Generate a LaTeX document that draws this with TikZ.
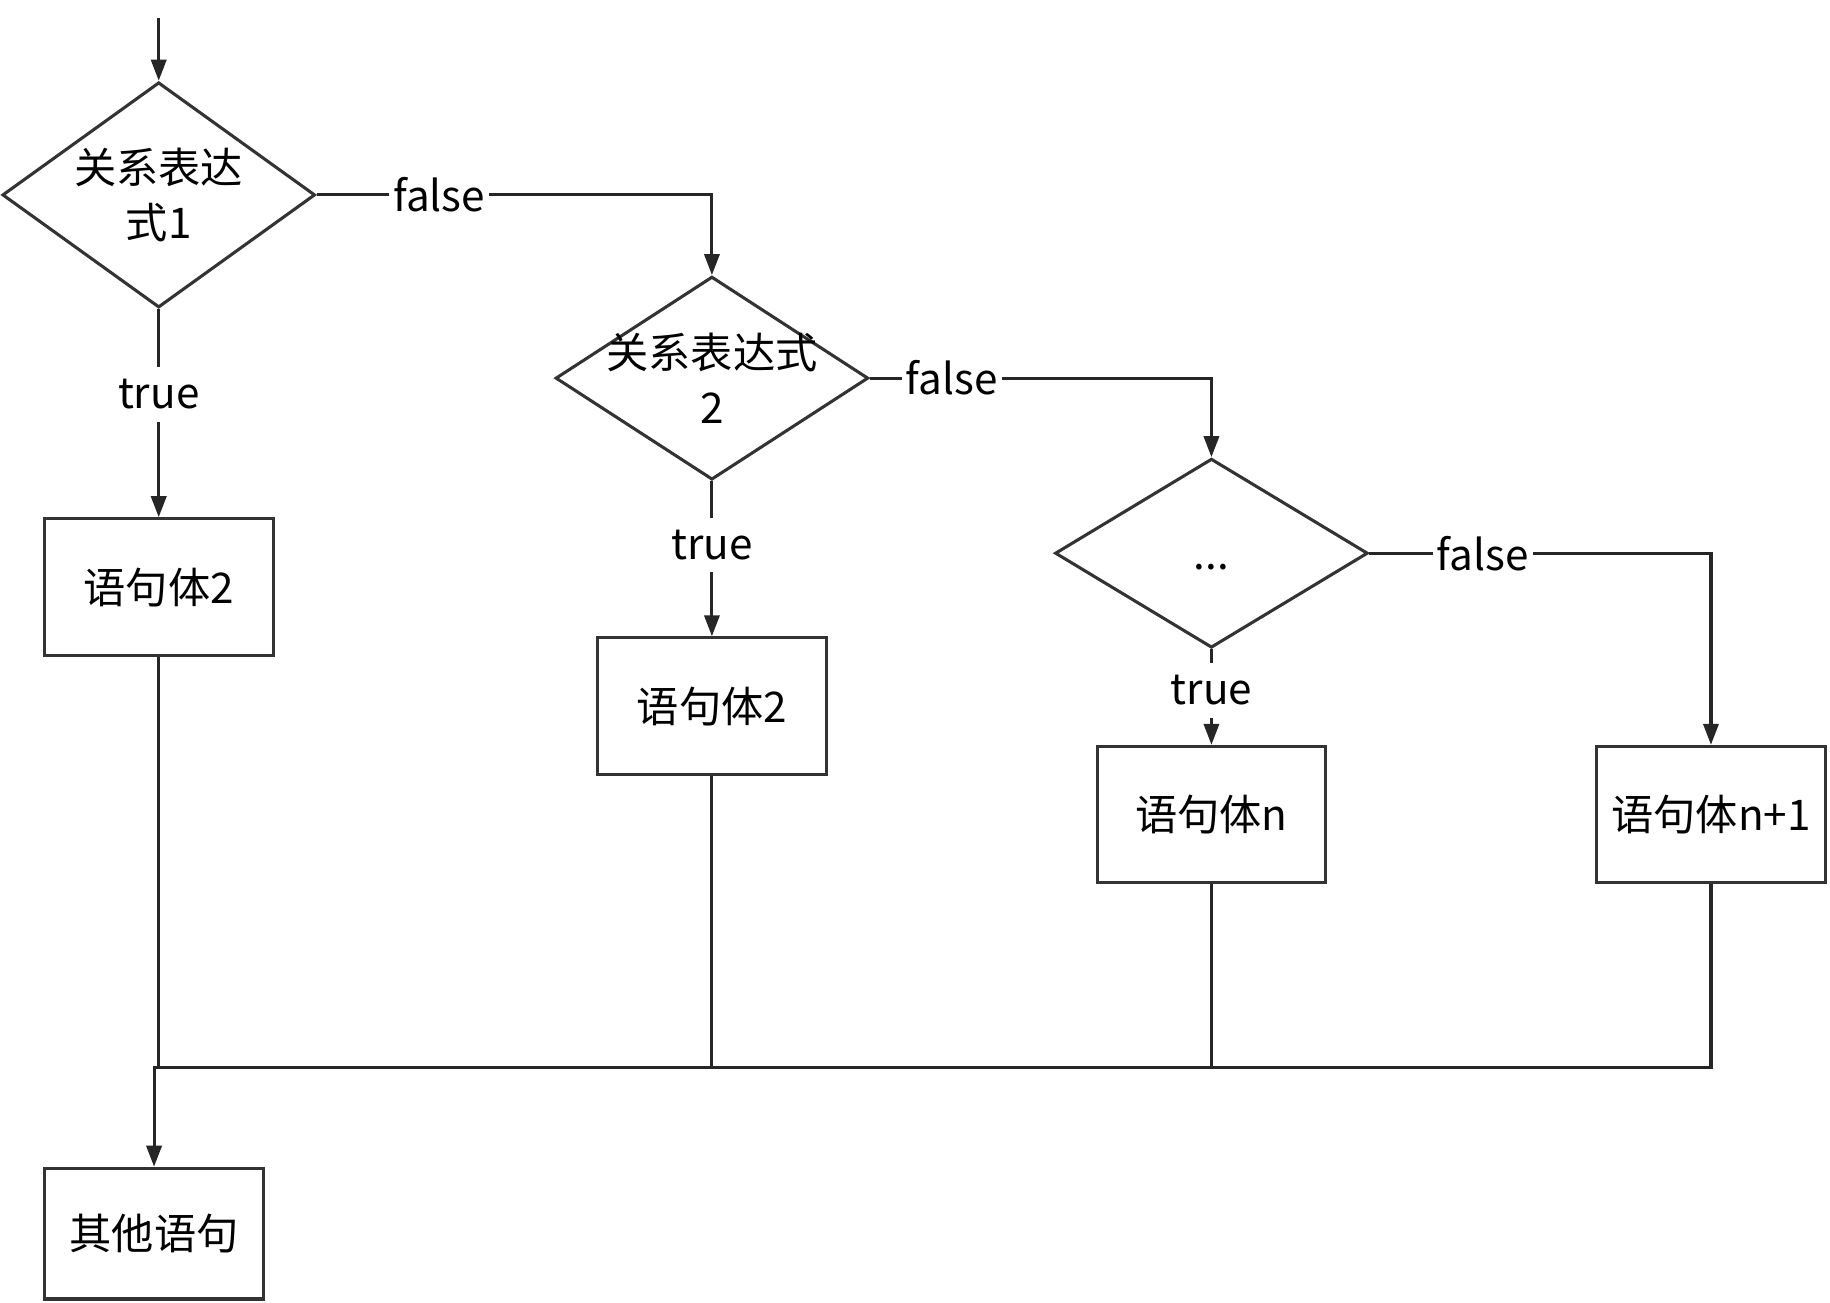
\documentclass[tikz,border=0pt]{standalone}
\usepackage{fontspec}
\setmainfont{Noto Sans CJK SC}
\usetikzlibrary{shapes.geometric,arrows.meta}
\begin{document}
\begin{tikzpicture}[x=0.1mm,y=-0.1mm,every node/.style={font=\fontsize{10.3}{13.5}\selectfont},
  conn/.style={draw=black!85,line width=0.75pt},
  arr/.style={conn,-{Triangle[length=1.8mm,width=1.3mm]}},
  test/.style={diamond,draw=black!80,line width=0.75pt,inner sep=0pt,minimum width=2.68cm},
  stmt/.style={rectangle,draw=black!80,line width=0.75pt,minimum width=1.96cm,minimum height=1.17cm},
  lab/.style={fill=white,inner xsep=1pt,inner ysep=3pt}]
  \useasboundingbox (0,0) rectangle (1568,1116);
  \coordinate (start) at (136,15);
  \node[test,minimum height=1.93cm,label={[align=center]center:关系表达\\式1}] (d1) at (136,167) {};
  \node[test,minimum height=1.74cm,label={[align=center]center:关系表达式\\2}] (d2) at (610,324) {};
  \node[test,minimum height=1.62cm,label={[yshift=-1.2mm]center:...}] (d3) at (1038,474) {};
  \node[stmt] (b1) at (136,503) {语句体2};
  \node[stmt] (b2) at (610,605) {语句体2};
  \node[stmt] (bn) at (1038,698) {语句体n};
  \node[stmt] (bn1) at (1466,698) {语句体n+1};
  \node[stmt,minimum width=1.88cm,minimum height=1.12cm] (other) at (132,1057) {其他语句};
  \coordinate (join) at (132,915);
  \draw[arr] (start) -- (d1.north);
  \draw[arr] (d1.south) -- node[lab,pos=0.41]{true} (b1.north);
  \draw[arr] (d2.south) -- node[lab,pos=0.41]{true} (b2.north);
  \draw[arr] (d3.south) -- node[lab,pos=0.43]{true} (bn.north);
  \draw[arr] (d1.east) -| node[lab,pos=0.155]{false} (d2.north);
  \draw[arr] (d2.east) -| node[lab,pos=0.12]{false} (d3.north);
  \draw[arr] (d3.east) -| node[lab,pos=0.166]{false} (bn1.north);
  \draw[arr] (bn1.south) |- (join) -- (other.north);
  \draw[conn] (b1.south) -- (b1.south |- join);
  \draw[conn] (b2.south) -- (b2.south |- join);
  \draw[conn] (bn.south) -- (bn.south |- join);
\end{tikzpicture}
\end{document}
